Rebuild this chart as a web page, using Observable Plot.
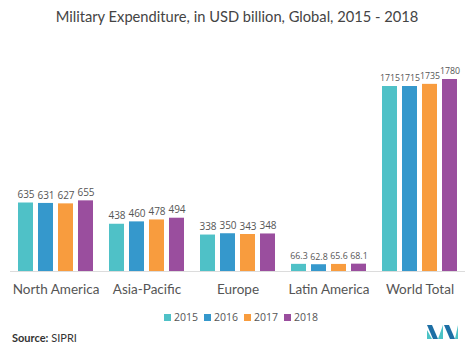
<!DOCTYPE html>
<html><head><meta charset="utf-8">
<script src="https://cdn.jsdelivr.net/npm/d3@7"></script>
<script src="https://cdn.jsdelivr.net/npm/@observablehq/plot@0.6"></script>
<style>
body{margin:0;background:#fff;font-family:Lato,"Open Sans",sans-serif;}
#wrap{position:relative;width:474px;height:351px;overflow:hidden;}
#title{position:absolute;top:7px;left:0;width:474px;text-align:center;font-size:14.7px;color:#444;}
#chart{position:absolute;top:30px;left:0;}
#chart [aria-label="fx-axis"] text, #chart [aria-label="fx-axis tick label"] text{font-size:13.5px;fill:#555;font-family:Lato,sans-serif;}
#legend{position:absolute;top:310px;left:164px;width:170px;white-space:nowrap;font-size:10.5px;color:#555;font-family:"Open Sans",sans-serif;}
#legend span.item{display:inline-block;width:40px;}
#legend span.sw{display:inline-block;width:7px;height:7px;margin-right:3px;vertical-align:0px;}
#source{position:absolute;top:331px;left:12px;font-size:11px;color:#333;}
#logo{position:absolute;left:427px;top:324px;}
</style>
</head><body>
<div id="wrap">
<div id="title">Military Expenditure, in USD billion, Global, 2015 - 2018</div>
<div id="chart"></div>
<div id="legend"></div>
<div id="source"><b>Source:</b> SIPRI</div>
<svg id="logo" width="32" height="16" viewBox="0 0 32 16">
<polygon points="0,1 5,1 11,15 6,15" fill="#1d6fa5"/>
<polygon points="0,6 5,15 0,15" fill="#4bc3c6"/>
<polygon points="11,15 16,1 16,15" fill="#4bc3c6"/>
<polygon points="17,1 22,1 28,15 23,15" fill="#1d6fa5"/>
<polygon points="28,15 31,1 31,15" fill="#4bc3c6"/>
</svg>
</div>
<script>
const regions = ["North America", "Asia-Pacific", "Europe", "Latin America", "World Total"];
const years = ["2015", "2016", "2017", "2018"];
const colors = ["#4fc1c7", "#3598cc", "#f89c3e", "#9a4e9e"];
const v2015 = [635, 438, 338, 66.3, 1715];
const v2016 = [631, 460, 350, 62.8, 1715];
const v2017 = [627, 478, 343, 65.6, 1735];
const v2018 = [655, 494, 348, 68.1, 1780];

const series = [v2015, v2016, v2017, v2018];
const data = [];
regions.forEach((r, i) => years.forEach((y, j) => data.push({region: r, year: y, value: series[j][i]})));

const chart = Plot.plot({
  width: 474,
  height: 272,
  marginTop: 49,
  marginBottom: 31,
  marginLeft: 0,
  marginRight: 0,
  style: {fontFamily: "'Open Sans', sans-serif", color: "#555", background: "transparent"},
  facet: {data, x: "region"},
  fx: {domain: regions, paddingInner: 0.132, paddingOuter: 0.17, label: null, tickSize: 0, tickPadding: 13},
  x: {domain: years, paddingInner: 0.238, paddingOuter: 0, axis: null},
  y: {domain: [0, 1780], axis: null},
  color: {domain: years, range: colors},
  marks: [
    Plot.barY(data, {x: "year", y: "value", fill: "year"}),
    Plot.ruleY([0], {stroke: "#dcdcdc", strokeWidth: 1, insetLeft: -6, insetRight: -6}),
    Plot.text(data, {x: "year", y: "value", text: d => String(d.value), dy: -8,
      fontSize: d => String(d.value).length >= 4 ? 8.8 : 10, fill: "#555"})
  ]
});
document.getElementById("chart").appendChild(chart);

const legend = document.getElementById("legend");
years.forEach((y, i) => {
  const item = document.createElement("span");
  item.className = "item";
  const sw = document.createElement("span");
  sw.className = "sw";
  sw.style.background = colors[i];
  item.appendChild(sw);
  item.appendChild(document.createTextNode(y));
  legend.appendChild(item);
});
</script>
</body></html>
